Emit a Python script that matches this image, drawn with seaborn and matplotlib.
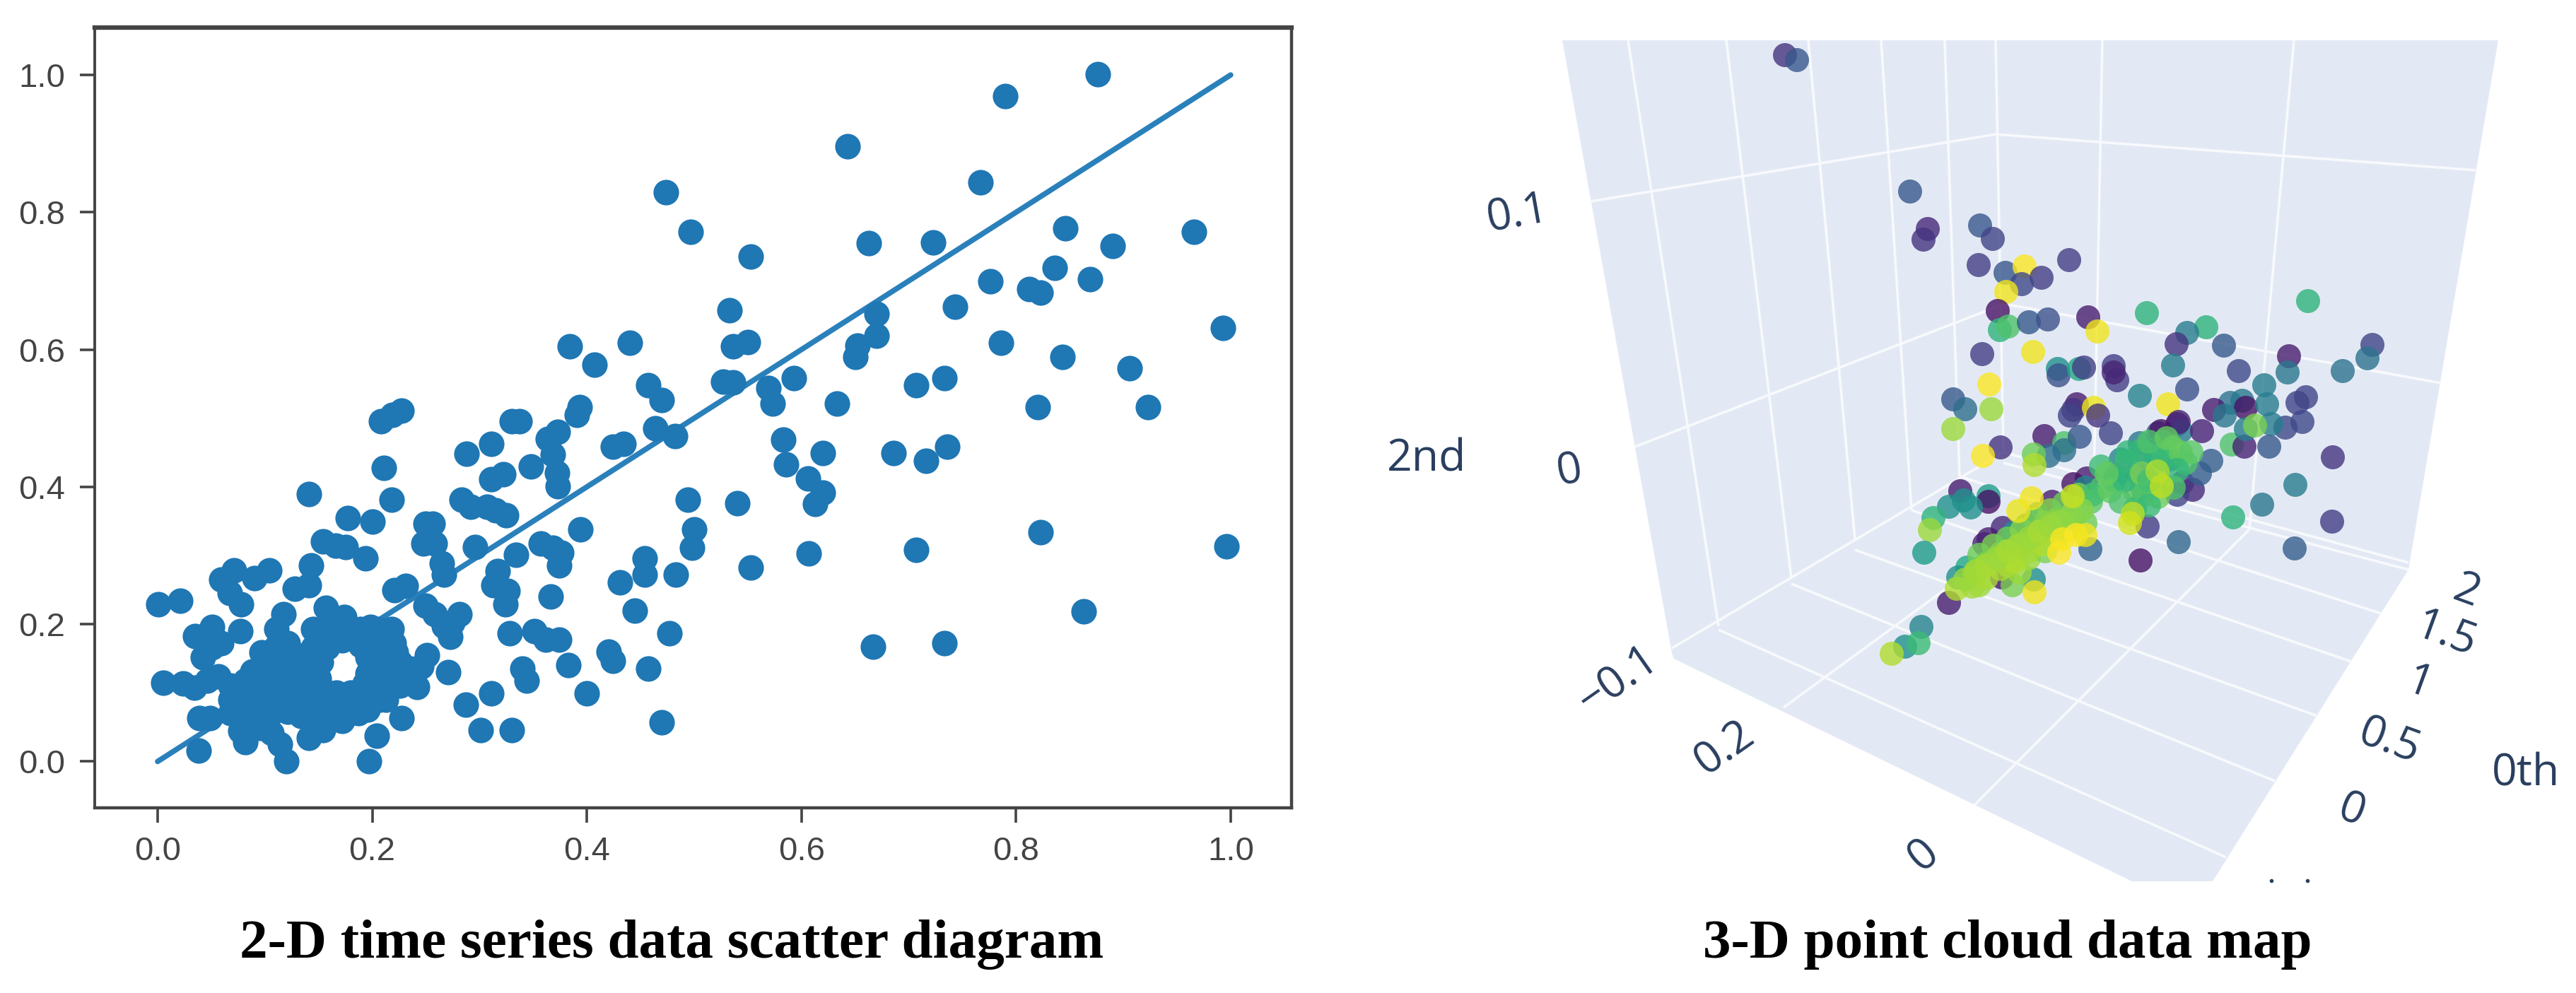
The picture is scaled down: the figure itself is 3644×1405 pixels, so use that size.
import numpy as np
import pandas as pd
import matplotlib
matplotlib.use("Agg")
import matplotlib.pyplot as plt
import seaborn as sns

# ==========================================
# 2-D SCATTER DATA
# ==========================================
upper_x = [.876, .790, .643, .767, .966, .846, .663, .723, .890, .553, .836, .776, .869,
           .812, .823, .743, .533, .670, .670, .652, .650, .550, .536, .786, .993, .843,
           .906, .593, .733, .707, .527, .536, .569, .573, .633, .820, .923]
upper_y = [1.001, .969, .896, .844, .771, .777, .755, .756, .751, .735, .719, .699, .703,
           .688, .683, .662, .657, .652, .620, .606, .589, .611, .605, .610, .631, .589,
           .573, .558, .558, .548, .553, .552, .544, .521, .521, .516, .516]

right_x = [.583, .540, .613, .620, .606, .586, .620, .686, .716, .736, .823, .996, .607,
           .707, .553, .863, .667, .733]
right_y = [.469, .376, .375, .392, .412, .433, .449, .449, .438, .459, .334, .313, .303,
           .308, .282, .219, .167, .172]

top_mid_x = [.474, .497, .384, .440, .407, .457, .470, .227, .219, .208, .337, .330, .393,
             .391, .373, .364, .311, .288, .211, .424, .434, .464, .482, .368, .348, .322,
             .311, .372, .373]
top_mid_y = [.829, .771, .605, .610, .578, .548, .526, .511, .505, .496, .496, .496, .516,
             .505, .480, .470, .463, .448, .428, .459, .463, .485, .474, .447, .430, .418,
             .411, .420, .401]

mid_x = [.141, .218, .177, .200, .283, .292, .307, .315, .325, .494, .394, .500, .498, .250,
         .256, .248, .258, .296, .154, .166, .175, .143, .194, .334, .357, .368, .376, .374,
         .265, .267, .454, .454, .483, .431, .317, .313, .326, .324, .366, .141, .128, .221,
         .231, .104, .090, .071, .059, .067, .078, .001, .021, .445, .250, .258, .281, .275,
         .273, .267, .328, .351, .362, .374, .477, .420, .424, .383, .340, .344, .457, .400,
         .311, .287, .301, .330, .470, .271]
mid_y = [.390, .381, .355, .349, .381, .371, .371, .366, .359, .381, .338, .338, .311, .346,
         .346, .318, .318, .312, .321, .314, .312, .286, .296, .301, .318, .311, .304, .286,
         .289, .272, .296, .272, .272, .261, .277, .257, .249, .229, .240, .257, .252, .250,
         .256, .278, .267, .278, .265, .245, .229, .229, .234, .220, .227, .215, .215, .202,
         .182, .197, .187, .190, .178, .178, .187, .160, .147, .140, .135, .118, .135, .099,
         .099, .083, .046, .046, .057, .130]

cluster_x = [.077, .117, .111, .051, .035, .044, .042, .051, .059, .005, .024, .034, .046,
             .057, .039, .049, .038, .120, .197, .204, .227, .242, .251, .157, .174, .145,
             .198, .218, .220, .222, .182, .165, .145, .152, .097, .110, .121, .156, .189,
             .204, .207, .196, .099, .112, .125, .139, .068, .082, .095, .108, .121, .134,
             .150, .196, .209, .222, .235, .246, .068, .082, .095, .108, .121, .134, .147,
             .161, .174, .187, .200, .213, .226, .068, .082, .095, .108, .121, .134, .147,
             .161, .174, .187, .196, .213, .082, .077, .095, .106, .114, .141, .154, .172,
             .174, .158, .189]
cluster_y = [.190, .215, .193, .196, .183, .183, .152, .166, .172, .115, .114, .107, .118,
             .124, .063, .063, .016, .000, .000, .037, .063, .109, .155, .224, .210, .193,
             .196, .193, .172, .159, .190, .186, .166, .145, .159, .166, .172, .176, .193,
             .193, .166, .152, .142, .142, .145, .145, .111, .118, .118, .118, .118, .118,
             .121, .128, .131, .138, .135, .138, .090, .090, .094, .094, .094, .094, .094,
             .090, .090, .094, .104, .104, .111, .070, .066, .066, .073, .073, .066, .066,
             .066, .066, .070, .076, .090, .028, .045, .049, .042, .025, .034, .046, .059,
             .179, .166, .169]

core_x = [.106, .119, .132, .145, .088, .075, .088, .101, .114, .128, .141, .154, .167, .180,
          .193, .207, .220, .075, .088, .101, .114, .128, .141, .154, .167, .180, .193, .207,
          .088, .106, .117, .130, .143, .154, .172, .196, .209, .213, .226, .220, .161, .176]
core_y = [.128, .128, .131, .131, .131, .100, .104, .104, .104, .104, .104, .104, .100, .100,
          .114, .118, .124, .080, .080, .082, .082, .080, .080, .078, .078, .080, .090, .090,
          .049, .159, .155, .155, .152, .162, .176, .176, .183, .152, .145, .166, .200, .193]

line_x = [0.0, 1.0]
line_y = [0.0, 1.0]
tick_values = [0.0, 0.2, 0.4, 0.6, 0.8, 1.0]

# ==========================================
# 3-D CLOUD DATA, projected to screen position, c is the viridis value
# ==========================================
far_x = [2525, 2542, 2702, 2727, 2721, 2801, 2819, 2799, 2837, 2864, 2888, 2860, 2838, 2927,
         2826, 2829, 2841, 2870, 2897, 2954, 2967, 2876, 2804, 3037, 3265, 3121, 3094, 3079,
         3146, 3074, 3167, 3238, 3236, 3203, 3356, 3349, 3314, 2911, 2912, 2941, 2948, 2990,
         2995, 2990, 3027, 3094, 3067]
far_y = [78, 85, 271, 324, 339, 319, 338, 375, 386, 377, 393, 402, 413, 368,
         440, 467, 462, 456, 452, 449, 469, 498, 501, 443, 426, 463, 471, 487,
         489, 517, 525, 504, 527, 545, 488, 507, 525, 522, 531, 522, 520, 518,
         538, 527, 560, 551, 572]
far_c = [.15, .27, .27, .12, .15, .27, .2, .18, .27, 1.0, .18, .22, .98, .18,
         .05, .65, .72, .28, .25, .08, .98, .98, .18, .65, .65, .65, .42, .15,
         .28, .42, .22, .08, .40, .42, .2, .38, .38, .5, .25, .6, .18, .18,
         .18, .1, .45, .25, .98]

side_x = [3155, 3172, 3177, 3207, 3250, 3262, 3257, 3233, 3213, 3157, 3175, 3210, 3177, 3190,
          3300, 3247, 3200, 3159, 3299, 3246, 3080,
          2763, 2780, 2814, 2817, 2763, 2830, 2805, 2892, 2920, 2942, 2920, 2898, 2877, 2878,
          2938, 2933, 2928, 2962, 2968, 2986, 3132, 3147, 2773, 2813, 2813, 2757, 2778, 2788,
          2735, 2730, 2722, 2757, 2718, 2695, 2714, 2676]
side_y = [570, 567, 577, 572, 570, 562, 597, 605, 600, 629, 632, 632, 607, 602,
          647, 686, 714, 732, 738, 776, 600,
          565, 579, 544, 579, 607, 633, 645, 617, 627, 618, 637, 645, 643, 658,
          572, 580, 588, 577, 588, 613, 580, 588, 695, 702, 710, 717, 708, 718,
          733, 750, 782, 853, 887, 915, 910, 925]
side_c = [.38, .4, .05, .42, .2, .2, .22, .22, .42, .72, .1, .28, .42, .8,
          .15, .42, .4, .65, .18, .3, .1,
          .28, .36, 1.0, .85, .85, .15, 1.0, .08, .72, .27, .36, .36, .78, .88,
          .08, .15, .2, .97, .15, .2, .08, .4, .08, .55, .05, .5, .5, .5,
          .65, .85, .55, .08, .45, .5, .68, .88]

band_x = [2833, 2813, 2807, 2903, 2952, 2933, 3038, 3082, 3028, 2957, 3102, 3080, 3087, 3112,
          3128, 2832, 2850, 2867, 2883, 2950, 2993, 3023, 3027, 3053, 3085, 3082, 3115, 3057,
          3000, 3040, 3070, 3060, 3030,
          2783, 2770, 2877, 2847, 2768, 2800, 2793, 2810, 2830, 2850, 2840, 2863, 2883, 2870,
          2857, 2893, 2893, 2913, 2933, 2950, 2958, 2973, 2972, 2992, 3020, 3020, 3008, 3028,
          3073, 3050, 3092, 3033, 3052, 3058, 3053]
band_y = [747, 763, 770, 710, 677, 685, 745, 767, 793, 777, 693, 700, 683, 670,
          652, 817, 753, 743, 727, 690, 673, 670, 627, 613, 610, 597, 610, 610,
          650, 650, 650, 625, 690,
          803, 817, 820, 828, 833, 828, 813, 797, 783, 783, 800, 770, 757, 790,
          810, 780, 740, 733, 733, 740, 710, 690, 660, 680, 695, 720, 653, 638,
          633, 647, 655, 700, 667, 688, 703]
band_c = [.12, .08, .1, .08, .08, .05, .18, .33, .05, .32, .12, .2, .15, .3,
          .3, .05, .5, .45, .5, .45, .5, .45, .4, .25, .42, .1, .1, .05,
          .45, .45, .42, .45, .45,
          .6, .5, .5, .8, .88, .85, .85, .85, .87, .87, .87, .88, .88, .85,
          .85, .8, .85, .85, .8, .78, .75, .72, .68, .6, .76, .62, .68, .68,
          .78, .65, .72, .72, .87, .9, .78]

fill_x = [2800, 2820, 2840, 2860, 2880, 2900, 2920, 2940, 2960, 2985, 3005, 3030, 3000, 3040,
          3060, 3085, 3010, 3040, 3065, 3100, 3080, 3075, 3040, 2980,
          2790, 2810, 2830, 2850, 2870, 2890, 2910, 2925,
          2780, 2795, 2810, 2825, 2840, 2855, 2870, 2885, 2900, 2915, 2930, 2945]
fill_y = [785, 772, 762, 750, 735, 722, 712, 700, 700, 695, 680, 670, 710, 680,
          650, 640, 640, 625, 620, 640, 665, 690, 715, 670,
          830, 818, 805, 795, 780, 770, 760, 750,
          820, 808, 800, 790, 780, 772, 762, 752, 745, 738, 730, 722]
fill_c = [.78, .8, .78, .82, .8, .82, .78, .8, .7, .76, .66, .8, .72, .7,
          .68, .76, .66, .72, .76, .74, .66, .72, .68, .76,
          .86, .87, .87, .88, .86, .88, .87, .86,
          .85, .86, .87, .85, .87, .86, .85, .87, .85, .84, .83, .82]

top_x = [3017, 3013, 2855, 2874, 2932, 2878, 2913, 2917, 2937, 2950, 3052, 3058]
top_y = [727, 740, 723, 705, 702, 838, 782, 763, 757, 757, 667, 688]
top_c = [.9, .93, .97, .98, .92, .98, 1.0, .99, 1.0, .98, .87, .9]

# walls and gridlines of the 3-D scene, as ((x0, y0), (x1, y1)) screen positions
wall_outline = [(2210, 57), (3534, 57), (3407, 806), (3130, 1247), (3016, 1247), (2368, 932), (2365, 924)]
grid_segments = [
    ((2303, 57), (2431, 886)), ((2442, 57), (2534, 818)), ((2558, 57), (2624, 763)),
    ((2661, 57), (2704, 722)), ((2751, 57), (2772, 674)), ((2823, 57), (2834, 640)),
    ((2974, 57), (2962, 680)), ((3245, 57), (3182, 749)),
    ((2250, 285), (2823, 190)), ((2823, 190), (3504, 241)),
    ((2313, 632), (2835, 430)), ((2835, 430), (3453, 542)),
    ((2365, 917), (2834, 640)), ((2834, 640), (3407, 796)),
    ((2431, 891), (3149, 1213)), ((2534, 826), (3218, 1105)), ((2624, 778), (3278, 1013)),
    ((2704, 722), (3326, 936)), ((2772, 674), (3368, 868)), ((2834, 655), (3407, 806)),
    ((2793, 1139), (3182, 749)), ((2523, 1001), (2962, 680)),
]

scene_labels = ["0.1", "2nd", "0", "\u22120.1", "0.2", "0", "2", "1.5", "1", "0.5", "0", "0th"]
scene_label_x = [2147, 2018, 2221, 2290, 2440, 2722, 3489, 3459, 3422, 3380, 3326, 3573]
scene_label_y = [304, 650, 667, 963, 1059, 1211, 838, 898, 968, 1050, 1148, 1095]
scene_label_rot = [10, 0, 10, 35, 35, 40, -20, -20, -20, -20, -20, 0]

WIDTH, HEIGHT = 3644, 1405
sns.set_theme(style="white")
plt.rcParams["font.family"] = ["Liberation Sans", "DejaVu Sans"]

fig = plt.figure(figsize=(WIDTH / 100, HEIGHT / 100), dpi=100, facecolor="white")

# ---- left panel ----
ax = fig.add_axes([134 / WIDTH, 1 - 1143 / HEIGHT, (1827 - 134) / WIDTH, (1143 - 39) / HEIGHT])
df_2d = pd.DataFrame({
    "x": upper_x + right_x + top_mid_x + mid_x + cluster_x + core_x,
    "y": upper_y + right_y + top_mid_y + mid_y + cluster_y + core_y,
})
sns.lineplot(x=line_x, y=line_y, color="#2a80bb", linewidth=5.5, ax=ax, zorder=1, errorbar=None)
sns.scatterplot(data=df_2d, x="x", y="y", color="#1f77b4", s=680, linewidth=0, ax=ax, zorder=2)
ax.set_xlim(-0.0586, 1.0567)
ax.set_ylim(-0.0675, 1.069)
ax.set_xticks(tick_values)
ax.set_yticks(tick_values)
ax.set_xticklabels([f"{v:.1f}" for v in tick_values])
ax.set_yticklabels([f"{v:.1f}" for v in tick_values])
ax.set_xlabel("")
ax.set_ylabel("")
ax.tick_params(axis="both", length=15, width=2.6, color="#444444", labelcolor="#444444",
               labelsize=34, bottom=True, left=True)
ax.tick_params(axis="x", pad=14)
ax.tick_params(axis="y", pad=15)
for side, lw in zip(["left", "right", "bottom", "top"], [2.8, 3.2, 3.2, 4.6]):
    ax.spines[side].set_linewidth(lw)
    ax.spines[side].set_color("#444444")

# ---- right panel, axes in screen positions ----
ax3 = fig.add_axes([1900 / WIDTH, 0, (WIDTH - 1900) / WIDTH, 1])
ax3.set_xlim(1900, WIDTH)
ax3.set_ylim(HEIGHT, 0)
ax3.axis("off")
ax3.fill(*zip(*wall_outline), color="#e3e9f4", linewidth=0, zorder=0)
for (x0, y0), (x1, y1) in grid_segments:
    ax3.plot([x0, x1], [y0, y1], color="#f7f9fc", linewidth=2.6, zorder=1, solid_capstyle="butt")

df_3d = pd.DataFrame({
    "x": far_x + side_x + band_x + fill_x + top_x,
    "y": far_y + side_y + band_y + fill_y + top_y,
    "c": far_c + side_c + band_c + fill_c + top_c,
})
sns.scatterplot(data=df_3d, x="x", y="y", hue="c", palette="viridis", hue_norm=(0, 1), s=600,
                linewidth=0, alpha=0.8, legend=False, ax=ax3, zorder=2)
ax3.set_xlabel("")
ax3.set_ylabel("")

for label, lx, ly, rot in zip(scene_labels, scene_label_x, scene_label_y, scene_label_rot):
    ax3.text(lx, ly, label, family="Open Sans", fontsize=45, color="#2a3f5f",
             rotation=rot, ha="center", va="center", rotation_mode="anchor")
ax3.plot([3213, 3264], [1246, 1246], linestyle="none", marker="o", markersize=3, color="#2a3f5f")

# ---- captions ----
fig.text(950 / WIDTH, 1 - 1336 / HEIGHT, "2-D time series data scatter diagram", family="Liberation Serif",
         fontweight="bold", fontsize=57, color="black", ha="center", va="center")
fig.text(2840 / WIDTH, 1 - 1336 / HEIGHT, "3-D point cloud data map", family="Liberation Serif",
         fontweight="bold", fontsize=57, color="black", ha="center", va="center")

fig.savefig("out.png", dpi=100, facecolor="white")
